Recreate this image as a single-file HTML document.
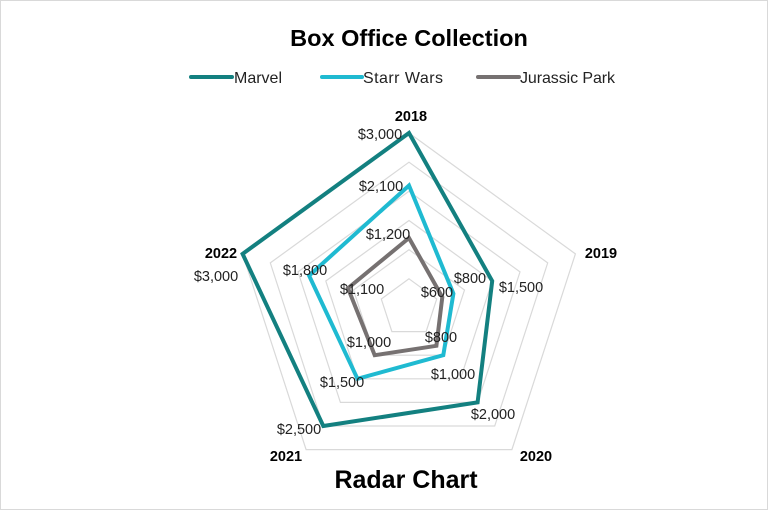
<!DOCTYPE html>
<html><head><meta charset="utf-8"><style>
html,body{margin:0;padding:0;background:#fff}
svg{display:block}
text{font-family:"Liberation Sans",Calibri,sans-serif}
</style></head><body>
<svg width="768" height="510" viewBox="0 0 768 510" xmlns="http://www.w3.org/2000/svg">
<rect x="0.5" y="0.5" width="767" height="509" fill="#fff" stroke="#d9d9d9"/>
<text x="409" y="46" text-anchor="middle" font-size="23.5" font-weight="bold" fill="#000">Box Office Collection</text>
<g font-size="16" fill="#222">
<line x1="191" y1="77" x2="232" y2="77" stroke="#138080" stroke-width="4" stroke-linecap="round"/>
<text x="234" y="83">Marvel</text>
<line x1="322" y1="77" x2="362" y2="77" stroke="#1fbad1" stroke-width="4" stroke-linecap="round"/>
<text x="363" y="83" textLength="80">Starr Wars</text>
<line x1="478" y1="77" x2="519" y2="77" stroke="#767171" stroke-width="4" stroke-linecap="round"/>
<text x="520" y="83" textLength="95">Jurassic Park</text>
</g>
<g fill="none" stroke="#d9d9d9" stroke-width="1.2">
<polygon points="409,133 575.4,253.9 511.9,449.6 306.1,449.6 242.6,253.9"/>
<polygon points="409,162.2 547.7,262.9 494.7,426 323.3,426 270.3,262.9"/>
<polygon points="409,191.3 520,271.9 477.6,402.4 340.4,402.4 298,271.9"/>
<polygon points="409,220.5 492.2,281 460.5,378.8 357.5,378.8 325.8,281"/>
<polygon points="409,249.7 464.5,290 443.3,355.2 374.7,355.2 353.5,290"/>
<polygon points="409,278.8 436.7,299 426.1,331.6 391.9,331.6 381.3,299"/>
</g>
<g fill="none" stroke-width="4" stroke-linejoin="miter">
<polygon points="409,133 492.2,281 477.6,402.4 323.3,426 242.6,253.9" stroke="#138080"/>
<polygon points="409,185.5 453.4,293.6 443.3,355.2 357.5,378.8 309.1,275.6" stroke="#1fbad1"/>
<polygon points="409,238 442.3,297.2 436.4,345.8 374.7,355.2 348,288.2" stroke="#767171"/>
</g>
<g font-size="14.5" font-weight="bold" fill="#000" text-anchor="middle">
<text x="411" y="121">2018</text>
<text x="601" y="258">2019</text>
<text x="536" y="461">2020</text>
<text x="286" y="461">2021</text>
<text x="221" y="258">2022</text>
</g>
<g font-size="14.5" fill="#222" text-anchor="middle">
<text x="380" y="139">$3,000</text>
<text x="381" y="191">$2,100</text>
<text x="388" y="239">$1,200</text>
<text x="216" y="281">$3,000</text>
<text x="305" y="275">$1,800</text>
<text x="362" y="294">$1,100</text>
<text x="470" y="283">$800</text>
<text x="437" y="297">$600</text>
<text x="521" y="292">$1,500</text>
<text x="441" y="342">$800</text>
<text x="453" y="379">$1,000</text>
<text x="493" y="419">$2,000</text>
<text x="369" y="347">$1,000</text>
<text x="342" y="387">$1,500</text>
<text x="299" y="434">$2,500</text>
</g>
<text x="406" y="488" text-anchor="middle" font-size="25" font-weight="bold" fill="#000">Radar Chart</text>
</svg>
</body></html>
